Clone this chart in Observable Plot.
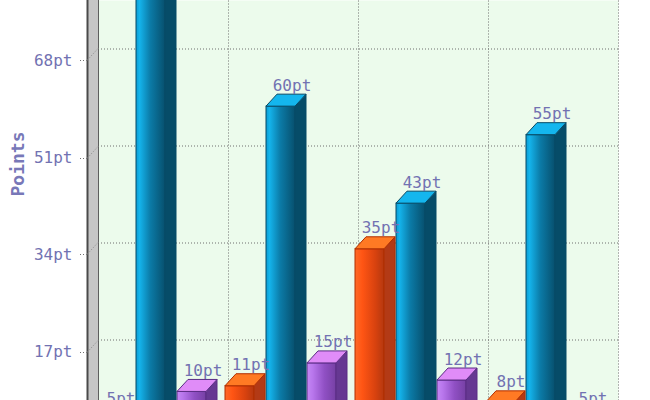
<!DOCTYPE html>
<html>
<head>
<meta charset="utf-8">
<script src="https://cdn.jsdelivr.net/npm/d3@7"></script>
<script src="https://cdn.jsdelivr.net/npm/@observablehq/plot@0.6"></script>
<style>
  html, body { margin: 0; padding: 0; background: #ffffff; overflow: hidden; }
  #chart svg { display: block; }
</style>
</head>
<body>
<div id="chart"></div>
<script>
// ---- data ----
const groups = ["A", "B", "C", "D"];
const series = ["Orange", "Blue", "Purple"];
const orangeValues = [5, 11, 35, 8];
const blueValues = [84, 60, 43, 55];
const purpleValues = [10, 15, 12, 5];
const yTicks = [17, 34, 51, 68];
const yTitle = "Points";

const valuesBySeries = [orangeValues, blueValues, purpleValues];
const rows = [];
series.forEach((s, i) => groups.forEach((g, j) => rows.push({group: g, series: s, value: valuesBySeries[i][j]})));

// ---- style ----
const W = 650, H = 400;
const ML = 87, MR = 43;
const DX = 11, DY = 12;           // 3D depth
const OFF = 8, STRIDE = 41, FRONT = 29;
const textColor = "#7272b2";
const gridColor = "#6e6e6e";
const styles = [
  {grad: "gOrange", stops: [[0, "#ff6a26"], [0.25, "#ff5514"], [0.7, "#d8420f"], [1, "#b5380f"]], top: "#ff7a24", side: "#b33a16", edge: "#b02e00"},
  {grad: "gBlue", stops: [[0, "#0c9cd4"], [0.12, "#14b4ec"], [0.5, "#0b7aa6"], [1, "#07506e"]], top: "#14b6ee", side: "#064c68", edge: "#074a66"},
  {grad: "gPurple", stops: [[0, "#c488f4"], [0.2, "#b876ec"], [0.6, "#9050c4"], [1, "#7640a4"]], top: "#e08cf8", side: "#663892", edge: "#5a2c84"}
];

function defsMark() {
  const g = d3.create("svg:g");
  const defs = g.append("defs");
  styles.forEach(st => {
    const lg = defs.append("linearGradient").attr("id", st.grad)
      .attr("x1", "0").attr("x2", "1").attr("y1", "0").attr("y2", "0");
    st.stops.forEach(([o, c]) => lg.append("stop").attr("offset", o).attr("stop-color", c));
  });
  return g.node();
}

function wallMark(index, scales, values, dimensions) {
  const {x, y} = scales;
  const bw = x.bandwidth();
  const g = d3.create("svg:g");
  const left = dimensions.marginLeft;
  // vertical back-wall grid lines at group boundaries
  groups.forEach(gr => {
    const xv = x(gr) + bw + DX + 0.5;
    g.append("line").attr("x1", xv).attr("x2", xv).attr("y1", y(0) - DY).attr("y2", 0)
      .attr("stroke", gridColor).attr("stroke-dasharray", "1,2");
  });
  // left side wall
  g.append("rect").attr("x", left).attr("y", 0).attr("width", DX).attr("height", dimensions.height)
    .attr("fill", "#c6c6c6");
  g.append("line").attr("x1", left + 0.5).attr("x2", left + 0.5).attr("y1", 0).attr("y2", dimensions.height)
    .attr("stroke", "#4a4a4a").attr("stroke-width", 2);
  g.append("line").attr("x1", left + DX + 0.5).attr("x2", left + DX + 0.5).attr("y1", 0).attr("y2", dimensions.height)
    .attr("stroke", "#5e5e5e").attr("stroke-width", 1);
  // tick marks (front) and diagonal connectors to the back wall
  yTicks.forEach(t => {
    const yv = Math.round(y(t)) + 0.5;
    g.append("line").attr("x1", left - 7).attr("x2", left).attr("y1", yv).attr("y2", yv)
      .attr("stroke", gridColor).attr("stroke-dasharray", "1,2");
    g.append("line").attr("x1", left).attr("x2", left + DX).attr("y1", yv).attr("y2", yv - DY)
      .attr("stroke", "#9a9a9a").attr("stroke-dasharray", "1.5,1.5");
  });
  return g.node();
}

function facesMark(index, scales) {
  const {x, y} = scales;
  const g = d3.create("svg:g");
  rows.forEach(d => {
    const i = series.indexOf(d.series);
    const st = styles[i];
    const x0 = x(d.group) + OFF + i * STRIDE, x1 = x0 + FRONT;
    const y0 = y(0), y1 = y(d.value);
    g.append("path")
      .attr("d", `M${x1},${y1}L${x1 + DX},${y1 - DY}L${x1 + DX},${y0 - DY}L${x1},${y0}Z`)
      .attr("fill", st.side).attr("stroke", st.edge).attr("stroke-width", 1);
    g.append("path")
      .attr("d", `M${x0},${y1}L${x0 + DX},${y1 - DY}L${x1 + DX},${y1 - DY}L${x1},${y1}Z`)
      .attr("fill", st.top).attr("stroke", st.edge).attr("stroke-width", 1);
  });
  return g.node();
}

const bandW = (W - ML - MR) / groups.length;
const frontMarks = series.map((s, i) => Plot.barY(rows.filter(d => d.series === s), {
  x: "group", y: "value",
  fill: `url(#${styles[i].grad})`,
  stroke: styles[i].edge, strokeWidth: 1,
  insetLeft: OFF + i * STRIDE,
  insetRight: bandW - (OFF + i * STRIDE + FRONT)
}));
const labelMarks = series.map((s, i) => Plot.text(rows.filter(d => d.series === s), {
  x: "group", y: "value",
  text: d => `${d.value}pt`,
  dx: OFF + i * STRIDE + FRONT / 2 + DX - bandW / 2,
  dy: -DY - 4,
  lineAnchor: "bottom",
  fill: textColor, fontSize: 16
}));

const chart = Plot.plot({
  width: W, height: H,
  marginLeft: ML, marginRight: MR, marginTop: 0, marginBottom: 0,
  style: {fontFamily: "'DejaVu Sans Mono', monospace", fontSize: "16px", background: "#ffffff"},
  x: {type: "band", domain: groups, padding: 0, axis: null},
  y: {domain: [0, 85], range: [448.5, 448.5 - 85 * (97 / 17)], axis: null},
  marks: [
    defsMark,
    Plot.frame({fill: "#ecfbec", stroke: "none", dx: DX}),
    Plot.gridY({ticks: yTicks, dx: DX, dy: -DY, stroke: gridColor, strokeOpacity: 1, strokeDasharray: "1,2"}),
    wallMark,
    ...frontMarks,
    facesMark,
    ...labelMarks,
    Plot.axisY({ticks: yTicks, tickFormat: d => `${d}pt`, tickSize: 0, tickPadding: 15, label: null, fill: textColor, fontSize: 16}),
    Plot.text([yTitle], {text: d => d, frameAnchor: "left", dx: -69, dy: -4, rotate: -90, fontWeight: "bold", fontSize: 18, fill: "#7878b8"})
  ]
});
document.getElementById("chart").appendChild(chart);
</script>
</body>
</html>
